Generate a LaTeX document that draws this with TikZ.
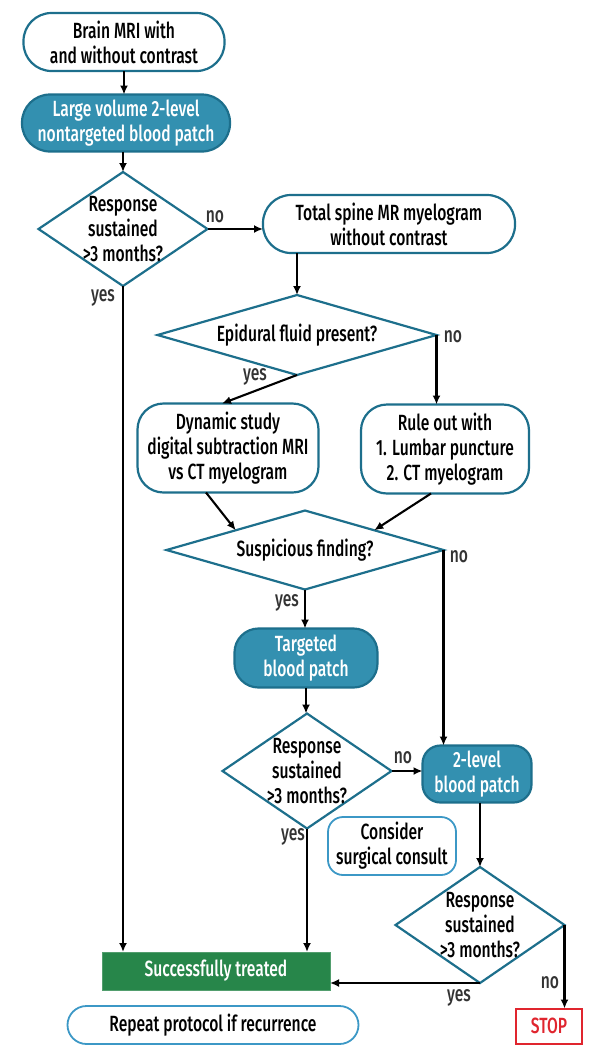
\documentclass[tikz,border=0pt]{standalone}
\usepackage{fontspec}
\setmainfont{Fira Sans}[UprightFont=* Medium, FakeStretch=0.71]
\usetikzlibrary{shapes.geometric,arrows.meta}
\definecolor{tealb}{HTML}{1D6F8C}
\definecolor{tealf}{HTML}{3390B0}
\definecolor{lightb}{HTML}{3C98C6}
\definecolor{greenf}{HTML}{27864A}
\definecolor{stopred}{HTML}{E0252E}
\definecolor{lblgray}{HTML}{333333}
\begin{document}
\begin{tikzpicture}[x=1pt,y=-1pt,
  every node/.style={font=\fontsize{22}{25}\selectfont, align=center, inner sep=0pt, outer sep=0pt},
  box/.style={draw=tealb, line width=2.2pt, fill=white, text=black, rounded corners=#1},
  box/.default=28pt,
  fbox/.style={box=#1, fill=tealf, text=white},
  fbox/.default=28pt,
  lbox/.style={draw=lightb, line width=1.8pt, fill=white, text=black, rounded corners=#1},
  lbox/.default=15pt,
  dia/.style={draw=tealb, line width=2.2pt, shape=diamond, fill=white},
  dtxt/.style={text=black},
  lbl/.style={text=lblgray},
  arr/.style={draw=black, line width=2.1pt, -{Latex[length=9pt,width=8pt]}}
]
\useasboundingbox (0,0) rectangle (594,1058);

% boxes
\node[box, minimum width=201pt, minimum height=58pt] (b1) at (124,42) {Brain MRI with\\and without contrast};
\node[fbox, minimum width=208pt, minimum height=57pt] (b2) at (126,123) {Large volume 2-level\\nontargeted blood patch};
\node[dia, minimum width=169pt, minimum height=114pt] (d1) at (123,229) {};
\node[dtxt] (t1) at (d1.center) {Response\\sustained\\>3 months?};
\node[box, minimum width=252pt, minimum height=58pt] (ts) at (389,224) {Total spine MR myelogram\\without contrast};
\node[dia, minimum width=279pt, minimum height=80pt] (d2) at (297,335) {};
\node[dtxt] (t2) at (d2.center) {Epidural fluid present?};
\node[box=26pt, minimum width=181pt, minimum height=89pt] (dyn) at (228,448) {Dynamic study\\digital subtraction MRI\\vs CT myelogram};
\node[box=26pt, minimum width=168pt, minimum height=89pt] (ro) at (445,449) {Rule out with\\1. Lumbar puncture\\2. CT myelogram};
\node[dia, minimum width=277pt, minimum height=79pt] (d3) at (305,550) {};
\node[dtxt] (t3) at (d3.center) {Suspicious finding?};
\node[fbox=24pt, minimum width=143pt, minimum height=59pt] (tg) at (306,658) {Targeted\\blood patch};
\node[dia, minimum width=169pt, minimum height=115pt] (d4) at (307,771) {};
\node[dtxt] (t4) at (d4.center) {Response\\sustained\\>3 months?};
\node[fbox=18pt, minimum width=109pt, minimum height=57pt] (tl) at (477,774) {2-level\\blood patch};
\node[lbox=15pt, minimum width=128pt, minimum height=58pt] (cs) at (392,846) {Consider\\surgical consult};
\node[dia, minimum width=169pt, minimum height=116pt] (d5) at (480,925) {};
\node[dtxt] (t5) at (d5.center) {Response\\sustained\\>3 months?};
\node[fill=greenf, draw=greenf!80!white, line width=1pt, text=white, minimum width=228pt, minimum height=38pt] (st) at (216,971) {Successfully treated};
\node[lbox=19pt, minimum width=291pt, minimum height=38pt] (rp) at (213,1025) {Repeat protocol if recurrence};
\node[draw=stopred, line width=2pt, fill=white, text=stopred, minimum width=66pt, minimum height=35pt] (stop) at (549,1026) {STOP};

% connectors
\draw[arr] (b1.south) -- (b1.south |- b2.north);
\draw[arr] (d1.north |- b2.south) -- (d1.north);
\draw[arr] (d1.east) -- (d1.east -| ts.west);
\draw[arr] (d1.south) -- (d1.south |- st.north);
\draw[arr] (d2.north |- ts.south) -- (d2.north);
\draw[arr] (d2.east) -- (d2.east |- ro.north);
\draw[arr] (d2.south) -- ([xshift=-6pt]dyn.north);
\draw[arr] ([xshift=-22pt]dyn.south) -- (d3.north west);
\draw[arr] ([xshift=-14pt]ro.south) -- (d3.north east);
\draw[arr] (d3.east) -- (d3.east |- tl.north);
\draw[arr] (d3.south) -- (d3.south |- tg.north);
\draw[arr] (tg.south) -- (tg.south |- d4.north);
\draw[arr] (d4.east) -- (d4.east -| tl.west);
\draw[arr] (d4.south) -- (d4.south |- st.north);
\draw[arr] (d5.north |- tl.south) -- (d5.north);
\draw[arr] (d5.south) -- (d5.south -| st.east);
\draw[arr] (d5.east) -- (d5.east |- stop.north);

% labels
\node[lbl] (no1) at (215,217) {no};
\node[lbl] (yes1) at (103,298) {yes};
\node[lbl] (no2) at (453,337) {no};
\node[lbl] (yes2) at (255,377) {yes};
\node[lbl] (no3) at (459,557) {no};
\node[lbl] (yes3) at (287,603) {yes};
\node[lbl] (no4) at (403,758) {no};
\node[lbl] (yes4) at (293,837) {yes};
\node[lbl] (yes5) at (459,998) {yes};
\node[lbl] (no5) at (550,983) {no};
\end{tikzpicture}
\end{document}
